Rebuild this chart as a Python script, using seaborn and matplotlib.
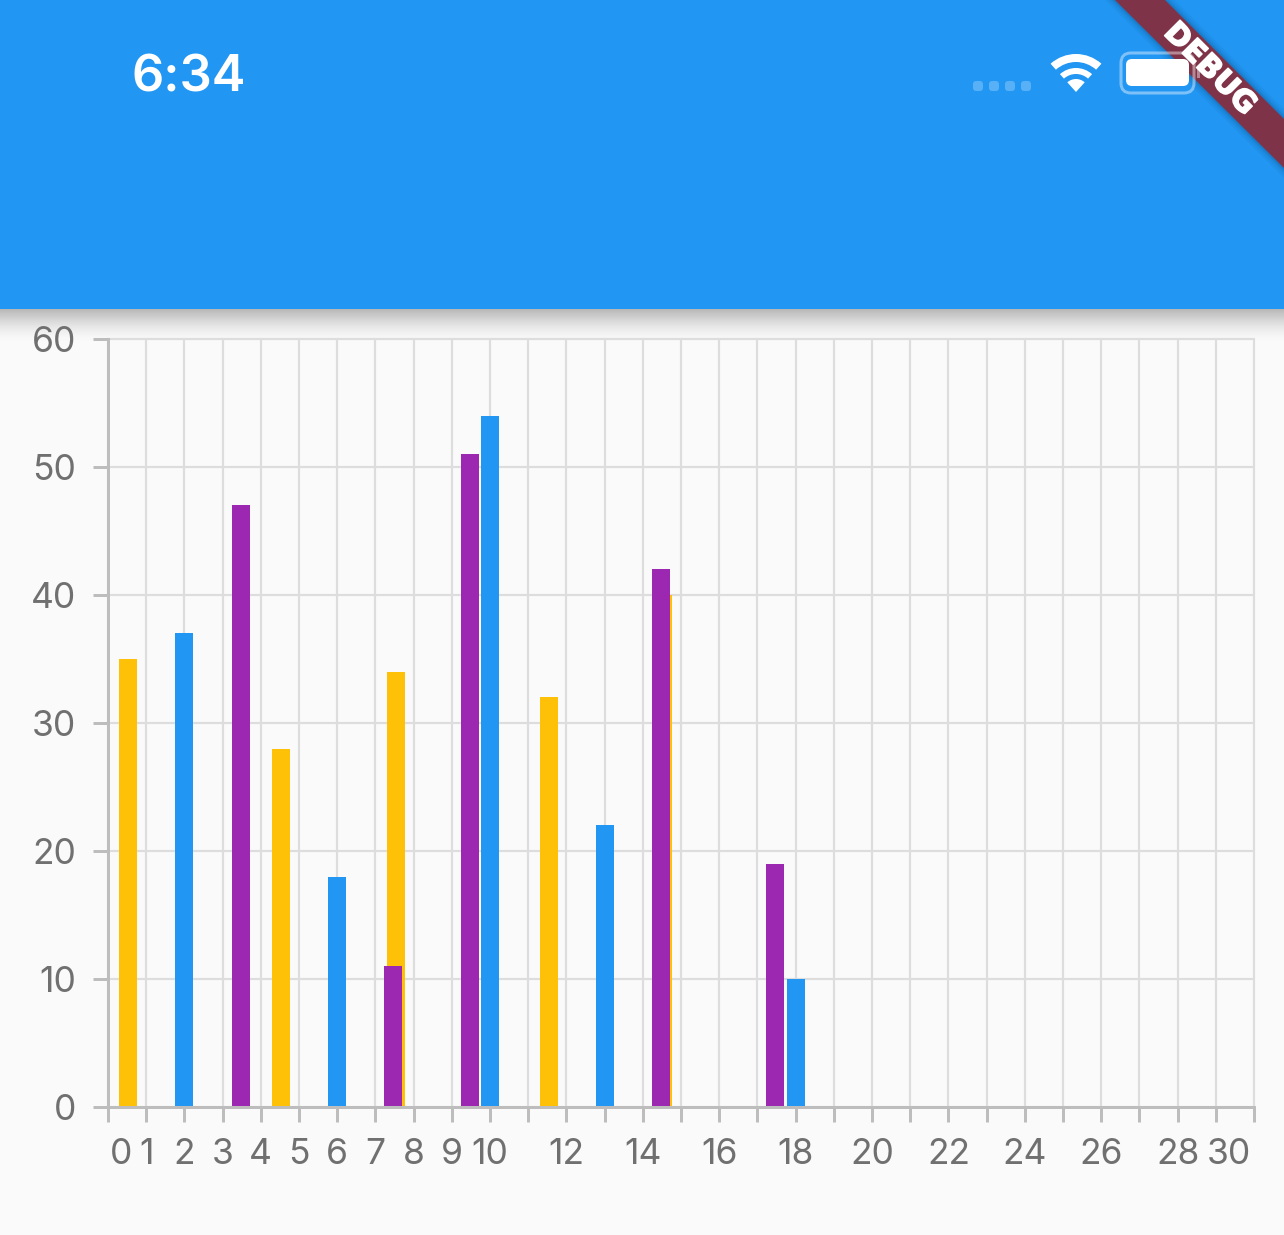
import numpy as np
import pandas as pd
import matplotlib
matplotlib.use("Agg")
import matplotlib.pyplot as plt
import matplotlib.patheffects as pe
from matplotlib.patches import Rectangle, FancyBboxPatch, Wedge, Polygon
from matplotlib.transforms import ScaledTranslation
import seaborn as sns

# ---- data ----
gold_x = [0.52, 4.53, 7.54, 11.54, 14.53]
gold_y = [35, 28, 34, 32, 40]
blue_x = [2, 6, 10, 13, 18]
blue_y = [37, 18, 54, 22, 10]
purple_x = [3.47, 7.46, 9.48, 14.48, 17.46]
purple_y = [47, 11, 51, 42, 19]
x_ticks = list(range(0, 31))
x_labels = [str(t) if (t <= 10 or t % 2 == 0) else "" for t in x_ticks]
y_ticks = [0, 10, 20, 30, 40, 50, 60]
status_time = "6:34"
banner_text = "DEBUG"

W, H = 1284, 1235
DPI = 100
PX = 72 / DPI
BG = "#FAFAFA"
BLUE = "#2196F3"
GOLD = "#FFC107"
PURPLE = "#9C27B0"
GRID = "#DDDDDD"
AXIS = "#BDBDBD"
TEXT = "#707070"
BAR_W = 0.471

sns.set_theme(style="white")
plt.rcParams["font.family"] = ["Inter", "Roboto", "DejaVu Sans"]

fig = plt.figure(figsize=(W / DPI, H / DPI), dpi=DPI, facecolor=BG)

# ---- chart ----
L, R, T, B = 108, 1254, 339, 1107
ax = fig.add_axes([L / W, 1 - B / H, (R - L) / W, (B - T) / H], facecolor="none")
ax.set_zorder(2)

for xs, ys, col in [(gold_x, gold_y, GOLD), (blue_x, blue_y, BLUE), (purple_x, purple_y, PURPLE)]:
    df = pd.DataFrame({"x": xs, "y": ys})
    native = np.min(np.diff(np.unique(df["x"])))
    sns.barplot(data=df, x="x", y="y", color=col, saturation=1, native_scale=True,
                width=BAR_W / native, errorbar=None, linewidth=0, ax=ax)

ax.set_xlim(0, 30)
ax.set_ylim(0, 60)
ax.set_xlabel("")
ax.set_ylabel("")
ax.set_xticks(x_ticks, labels=x_labels)
ax.set_yticks(y_ticks, labels=[str(v) for v in y_ticks])
ax.set_axisbelow(True)
ax.grid(True, color=GRID, linewidth=2.2 * PX)
for g in ax.get_xgridlines() + ax.get_ygridlines():
    g.set_clip_on(False)
ax.tick_params(axis="both", length=15 * PX, width=3 * PX, color=AXIS, labelcolor=TEXT,
               labelsize=25.5, left=True, bottom=True)
ax.tick_params(axis="x", pad=15.5 * PX)
ax.tick_params(axis="y", pad=17 * PX)
for side in ["top", "right"]:
    ax.spines[side].set_visible(False)
for side in ["left", "bottom"]:
    ax.spines[side].set_color(AXIS)
    ax.spines[side].set_linewidth(3 * PX)
    ax.spines[side].set_zorder(1.5)

labels = ax.get_xticklabels()
labels[0].set_ha("left")
labels[0].set_transform(labels[0].get_transform() + ScaledTranslation(2 / DPI, 0, fig.dpi_scale_trans))
labels[-1].set_ha("right")
labels[-1].set_transform(labels[-1].get_transform() + ScaledTranslation(-3 / DPI, 0, fig.dpi_scale_trans))

# ---- app chrome, in pixel coordinates ----
ov = fig.add_axes([0, 0, 1, 1], facecolor="none")
ov.axis("off")
ov.set_zorder(1)

ch = fig.add_axes([0, 0, 1, 1], facecolor="none")
ch.set_xlim(0, W)
ch.set_ylim(H, 0)
ch.axis("off")
ch.set_zorder(3)

# app bar shadow
n = 36
rgba = np.zeros((n, 1, 4))
rgba[:, 0, 3] = (1 - np.linspace(0, 1, n)) ** 1.8 * 0.27
ov.imshow(rgba, extent=(0, W, 345, 309), aspect="auto", interpolation="bilinear", zorder=1)
ov.set_xlim(0, W)
ov.set_ylim(H, 0)

ch.add_patch(Rectangle((0, 0), W, 309, color=BLUE, lw=0, zorder=1))

# debug banner with its soft shadow, under the status icons
for d, a in [(10, 0.03), (7, 0.04), (4, 0.05), (2, 0.06)]:
    ch.add_patch(Polygon([(1115 - d, 0), (1165 + d, 0), (1284, 119 - d), (1284, 168 + d)],
                         closed=True, fc="black", ec="none", alpha=a, zorder=2))
ch.add_patch(Polygon([(1115, 0), (1165, 0), (1284, 119), (1284, 168)], closed=True,
                     fc="#7F3349", ec="none", zorder=2))
ch.text(1210, 69, banner_text, color="white", fontsize=21.5, fontweight="bold",
        family="DejaVu Sans", rotation=-45, rotation_mode="anchor",
        ha="center", va="center", zorder=2.5,
        path_effects=[pe.withStroke(linewidth=1.6 * PX, foreground="white")])

# clock
ch.text(132, 91.5, status_time, color="white", fontsize=36.5, fontweight="semibold",
        ha="left", va="baseline", zorder=3)

# signal dots
for x0 in [973, 989, 1005, 1021]:
    ch.add_patch(FancyBboxPatch((x0 + 2, 83), 6, 6, boxstyle="round,pad=2,rounding_size=3",
                                fc="white", ec="none", alpha=0.25, zorder=3))

# wifi
cx, cy = 1076, 92
for r, w in [(38, 8), (24, 6), (13, 13)]:
    ch.add_patch(Wedge((cx, cy), r, -132, -48, width=w, fc="white", ec="none", zorder=3))

# battery
ch.add_patch(FancyBboxPatch((1125, 57), 65, 32, boxstyle="round,pad=4,rounding_size=10",
                            fc="none", ec="white", lw=3 * PX, alpha=0.42, zorder=3))
ch.add_patch(FancyBboxPatch((1130, 63), 55, 19, boxstyle="round,pad=4,rounding_size=6",
                            fc="white", ec="none", zorder=3))
ch.add_patch(Rectangle((1197, 68), 3, 10, fc="white", ec="none", alpha=0.42, zorder=3))

fig.savefig("out.png", dpi=DPI, facecolor=BG)
